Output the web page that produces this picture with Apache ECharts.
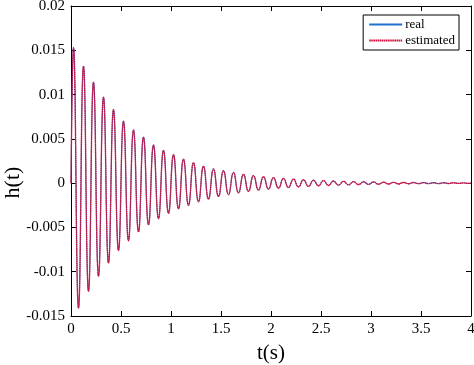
<!DOCTYPE html>
<html>
<head>
<meta charset="utf-8">
<script src="https://cdn.jsdelivr.net/npm/echarts@6/dist/echarts.min.js"></script>
<style>
html,body{margin:0;padding:0;background:#fff;}
#c{width:474px;height:365px;}
</style>
</head>
<body>
<div id="c"></div>
<script>
// Times of positive peaks (s)
var peakT = [0.025,0.125,0.225,0.325,0.425,0.525,0.625,0.725,0.825,0.925,
             1.025,1.125,1.225,1.325,1.425,1.525,1.625,1.725,1.825,1.925,
             2.025,2.125,2.225,2.325,2.425,2.525,2.625,2.725,2.825,2.925,
             3.025,3.125,3.225,3.325,3.425,3.525,3.625,3.725,3.825,3.925];
// Positive peak values h(t)
var peakH = [0.0153,0.0132,0.0114,0.0097,0.0083,0.0070,0.0060,0.0052,0.0043,0.0037,
             0.0032,0.0027,0.0023,0.0019,0.0016,0.0014,0.0012,0.0010,0.00085,0.00072,
             0.00062,0.00053,0.00045,0.00038,0.00033,0.00028,0.00024,0.0002,0.00017,0.00015,
             0.00013,0.00011,0.00009,0.00008,0.00007,0.00006,0.00005,0.00004,0.00004,0.00003];
// Times of negative troughs (s)
var troughT = [0.075,0.175,0.275,0.375,0.475,0.575,0.675,0.775,0.875,0.975,
               1.075,1.175,1.275,1.375,1.475,1.575,1.675,1.775,1.875,1.975,
               2.075,2.175,2.275,2.375,2.475,2.575,2.675,2.775,2.875,2.975,
               3.075,3.175,3.275,3.375,3.475,3.575,3.675,3.775,3.875,3.975];
// Negative trough values h(t)
var troughH = [-0.0141,-0.0122,-0.0105,-0.0090,-0.0076,-0.0065,-0.0055,-0.0047,-0.0040,-0.0034,
               -0.0029,-0.0025,-0.0021,-0.0018,-0.0015,-0.0013,-0.0011,-0.00092,-0.00078,-0.00067,
               -0.00057,-0.00049,-0.00042,-0.00036,-0.0003,-0.00026,-0.00022,-0.00019,-0.00016,-0.00014,
               -0.00012,-0.0001,-0.00009,-0.00007,-0.00006,-0.00005,-0.00005,-0.00004,-0.00003,-0.00003];
var startPt = [0, 0];
var endPt = [4, 0];
var seriesNames = ['real', 'estimated'];
var xTicks = {min: 0, max: 4, interval: 0.5};
var yTicks = {min: -0.015, max: 0.02, interval: 0.005};
var yTitle = 'h(t)';
var xTitle = 't(s)';

function buildSeries() {
  var d = [startPt.slice()];
  for (var k = 0; k < peakT.length; k++) {
    d.push([peakT[k], peakH[k]]);
    d.push([troughT[k], troughH[k]]);
  }
  d.push(endPt.slice());
  return d;
}
var realData = buildSeries();
var estData = buildSeries();

var font = 'Liberation Serif, Times New Roman, serif';
function fmtY(v) { return String(parseFloat(v.toFixed(4))); }
function fmtX(v) { return String(parseFloat(v.toFixed(2))); }

var chart = echarts.init(document.getElementById('c'), null, {renderer: 'canvas'});
var axisCommon = {
  axisLine: {show: true, onZero: false, lineStyle: {color: '#000', width: 1}},
  axisTick: {show: true, inside: true, length: 5, lineStyle: {color: '#000', width: 1}},
  splitLine: {show: false}
};
chart.setOption({
  animation: false,
  backgroundColor: '#fff',
  grid: {left: 71, right: 3, top: 6, bottom: 49, containLabel: false, outerBoundsMode: 'none'},
  legend: {
    orient: 'vertical', right: 15, top: 15,
    data: seriesNames,
    backgroundColor: '#fff', borderColor: '#000', borderWidth: 1, borderRadius: 0,
    padding: [3, 4, 3, 5], itemGap: 3, itemWidth: 33, itemHeight: 12,
    itemStyle: {opacity: 0},
    textStyle: {fontFamily: font, fontSize: 13, color: '#000', padding: [0, 0, 0, -2]}
  },
  graphic: [{
    type: 'text', left: 2, top: 'middle', rotation: Math.PI / 2,
    x: 13, y: 178,
    style: {text: yTitle, fontFamily: font, fontSize: 22, fill: '#000', textAlign: 'center', textVerticalAlign: 'middle'}
  }],
  xAxis: [
    Object.assign({type: 'value', position: 'bottom', min: xTicks.min, max: xTicks.max, interval: xTicks.interval,
      name: xTitle, nameLocation: 'middle', nameGap: 27,
      nameTextStyle: {fontFamily: font, fontSize: 21, color: '#000'},
      axisLabel: {fontFamily: font, fontSize: 15, color: '#000', margin: 6, formatter: fmtX}}, axisCommon),
    Object.assign({type: 'value', position: 'top', min: xTicks.min, max: xTicks.max, interval: xTicks.interval,
      axisLabel: {show: false}}, axisCommon)
  ],
  yAxis: [
    Object.assign({type: 'value', position: 'left', min: yTicks.min, max: yTicks.max, interval: yTicks.interval,
      axisLabel: {fontFamily: font, fontSize: 15, color: '#000', margin: 6, formatter: fmtY}}, axisCommon),
    Object.assign({type: 'value', position: 'right', min: yTicks.min, max: yTicks.max, interval: yTicks.interval,
      axisLabel: {show: false}}, axisCommon)
  ],
  series: [
    {name: seriesNames[0], type: 'line', data: realData, xAxisIndex: 0, yAxisIndex: 0,
     smooth: 0.5, symbol: 'none', color: '#1f6fd1',
     lineStyle: {color: '#1f6fd1', width: 1, type: 'solid'}},
    {name: seriesNames[1], type: 'line', data: estData, xAxisIndex: 0, yAxisIndex: 0,
     smooth: 0.5, symbol: 'none', color: '#d0103a',
     lineStyle: {color: '#d0103a', width: 1.4, type: [1.6, 0.5]}}
  ]
});
</script>
</body>
</html>
